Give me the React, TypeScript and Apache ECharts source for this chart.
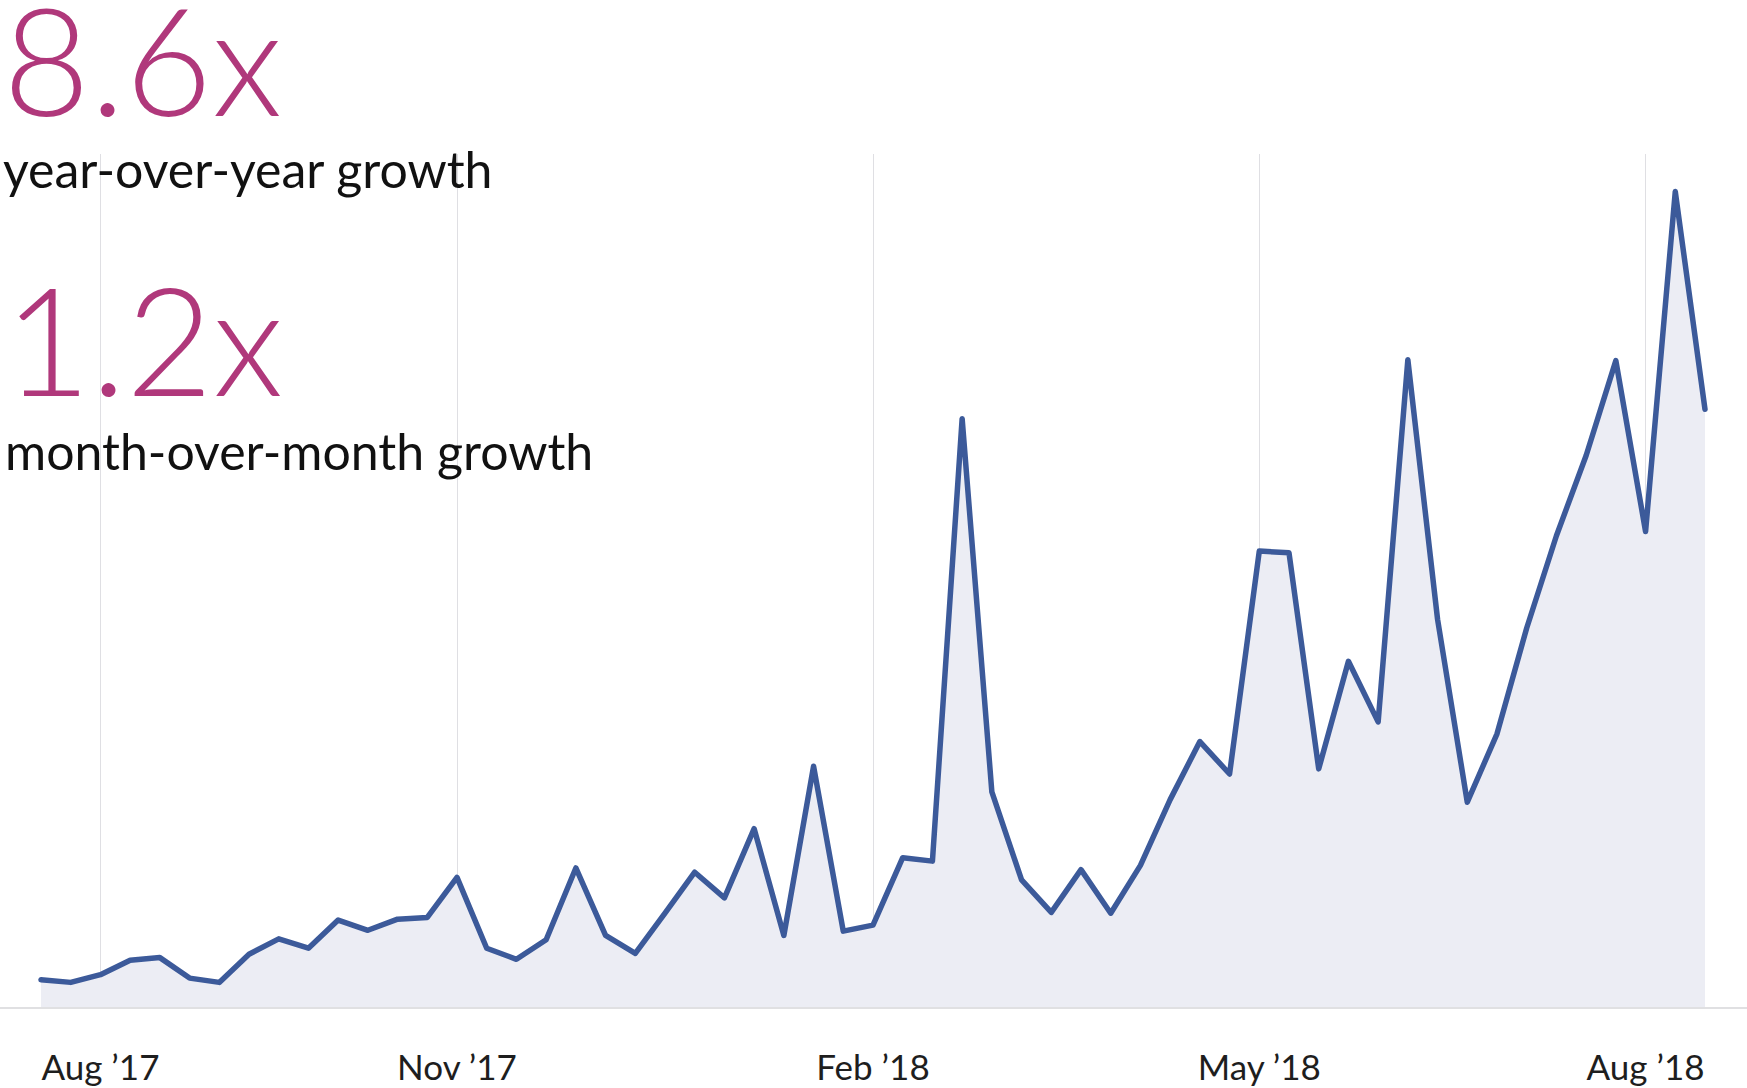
import React, { useEffect, useRef } from "react";
import * as echarts from "echarts";

// Weekly values (relative units, 0 = baseline, 100 = top of the plot area)
const values = [
  3.3, 3.0, 3.9, 5.6, 5.9, 3.5, 3.0, 6.3, 8.1, 7.0, 10.3, 9.1, 10.4, 10.6, 15.3,
  7.0, 5.7, 8.0, 16.4, 8.5, 6.4, 11.1, 15.9, 12.9, 21.0, 8.5, 28.3, 9.0, 9.7,
  17.6, 17.2, 69.0, 25.3, 15.0, 11.2, 16.2, 11.1, 16.7, 24.4, 31.2, 27.4, 53.5,
  53.3, 28.0, 40.6, 33.5, 75.9, 45.5, 24.1, 32.1, 44.5, 55.3, 64.7, 75.8, 55.8,
  95.6, 70.1,
];

// Tick labels and the week index each one sits on
const tickLabels = ["Aug ’17", "Nov ’17", "Feb ’18", "May ’18", "Aug ’18"];
const tickIndices = [2, 14, 28, 41, 54];

const categories = values.map((_, i) => String(i));

const headline1 = "8.6x";
const caption1 = "year-over-year growth";
const headline2 = "1.2x";
const caption2 = "month-over-month growth";

const W = 1747;
const H = 1088;

export default function App() {
  const ref = useRef<HTMLDivElement>(null);
  useEffect(() => {
    if (!ref.current) return;
    const chart = echarts.init(ref.current, null, { renderer: "svg" });
    const isTick = (i: number) => tickIndices.indexOf(i) >= 0;
    chart.setOption({
      animation: false,
      backgroundColor: "#ffffff",
      grid: { left: 41, right: 42, top: 154, bottom: 80, containLabel: false },
      xAxis: {
        type: "category",
        data: categories,
        boundaryGap: false,
        axisLine: { show: false },
        axisTick: { show: false },
        splitLine: {
          show: true,
          interval: (i: number) => isTick(i),
          lineStyle: { color: "#dfdfe3", width: 1 },
        },
        axisLabel: {
          show: true,
          interval: (i: number) => isTick(i),
          formatter: (_v: string, i: number) => {
            const k = tickIndices.indexOf(i);
            return k >= 0 ? tickLabels[k] : "";
          },
          margin: 40,
          fontFamily: "Lato",
          fontSize: 35,
          color: "#1e1e1e",
        },
      },
      yAxis: {
        type: "value",
        min: 0,
        max: 100,
        show: false,
        splitLine: { show: false },
      },
      series: [
        {
          type: "line",
          data: values,
          symbol: "none",
          smooth: false,
          lineStyle: { color: "#3c5a9a", width: 5.5, cap: "round", join: "round" },
          areaStyle: { color: "#ecedf4", opacity: 1 },
          z: 3,
        },
      ],
      graphic: [
        {
          type: "line",
          z: 10,
          shape: { x1: 0, y1: 1008, x2: W, y2: 1008 },
          style: { stroke: "#e0e0e2", lineWidth: 2 },
        },
        {
          type: "text",
          x: 3,
          y: 58,
          z: 20,
          style: {
            text: headline1,
            font: "300 150px Lato",
            lineHeight: 110,
            fill: "#b0387b",
            textAlign: "left",
            textVerticalAlign: "middle",
          },
        },
        {
          type: "text",
          x: 3,
          y: 169,
          z: 20,
          style: {
            text: caption1,
            font: "400 50px Lato",
            lineHeight: 50,
            fill: "#111111",
            textAlign: "left",
            textVerticalAlign: "middle",
          },
        },
        {
          type: "text",
          x: 4,
          y: 338,
          z: 20,
          style: {
            text: headline2,
            font: "300 150px Lato",
            lineHeight: 110,
            fill: "#b0387b",
            textAlign: "left",
            textVerticalAlign: "middle",
          },
        },
        {
          type: "text",
          x: 5,
          y: 451,
          z: 20,
          style: {
            text: caption2,
            font: "400 50px Lato",
            lineHeight: 50,
            fill: "#111111",
            textAlign: "left",
            textVerticalAlign: "middle",
          },
        },
      ],
    });
    return () => chart.dispose();
  }, []);
  return (
    <div
      ref={ref}
      style={{ position: "absolute", left: 0, top: 0, width: W, height: H }}
    />
  );
}
